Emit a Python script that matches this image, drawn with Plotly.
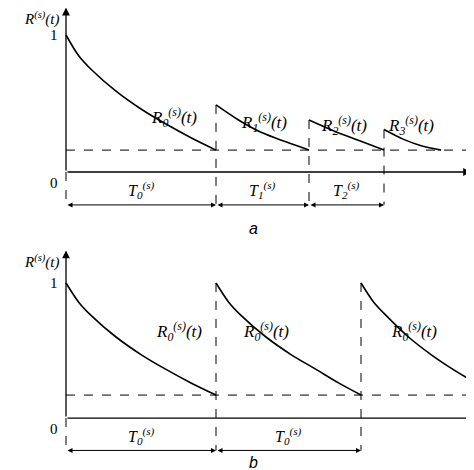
import plotly.graph_objects as go

# ---- data (schematic values) ----
# panel a
a_t = [[0, 0.25, 0.5, 1, 1.5, 2, 2.5, 3],
       [3, 3.45, 3.9, 4.4, 4.86],
       [4.86, 5.36, 5.86, 6.36],
       [6.36, 6.74, 7.12, 7.5]]
a_r = [[1, 0.85, 0.75, 0.59, 0.46, 0.35, 0.25, 0.16],
       [0.49, 0.38, 0.29, 0.22, 0.16],
       [0.38, 0.30, 0.23, 0.16],
       [0.31, 0.24, 0.19, 0.16]]
a_level = 0.16
a_bounds = [0, 3, 4.86, 6.36]
a_T = ["T<sub>0</sub><sup>(s)</sup>", "T<sub>1</sub><sup>(s)</sup>", "T<sub>2</sub><sup>(s)</sup>"]
a_lab = ["R<sub>0</sub><sup>(s)</sup>(t)", "R<sub>1</sub><sup>(s)</sup>(t)",
         "R<sub>2</sub><sup>(s)</sup>(t)", "R<sub>3</sub><sup>(s)</sup>(t)"]
a_lab_pos = [(2.15, 0.40), (3.95, 0.36), (5.55, 0.34), (6.9, 0.34)]

# panel b
b_t = [[0, 0.25, 0.5, 1, 1.5, 2, 2.5, 3],
       [3, 3.25, 3.5, 4, 4.5, 5, 5.45, 5.9],
       [5.9, 6.15, 6.4, 6.85, 7.3, 7.7, 8.1]]
b_r = [[1, 0.86, 0.76, 0.6, 0.47, 0.36, 0.26, 0.17],
       [1, 0.86, 0.76, 0.6, 0.47, 0.36, 0.26, 0.17],
       [1, 0.86, 0.76, 0.6, 0.47, 0.37, 0.28]]
b_level = 0.17
b_bounds = [0, 3, 5.9]
b_T = ["T<sub>0</sub><sup>(s)</sup>", "T<sub>0</sub><sup>(s)</sup>"]
b_lab = ["R<sub>0</sub><sup>(s)</sup>(t)"] * 3
b_lab_pos = [(2.25, 0.64), (4.0, 0.64), (6.95, 0.64)]

FONT = "Liberation Serif"
fig = go.Figure()
ann = []
shapes = []

def panel(ts, rs, level, bounds, Tl, labs, labpos, xr, yr, axis_end, ytop, letter, lety):
    for t, r in zip(ts, rs):
        fig.add_trace(go.Scatter(x=t, y=r, mode="lines", line=dict(color="black", width=1.6, shape="spline", smoothing=0.8),
                                 xaxis=xr, yaxis=yr, showlegend=False, hoverinfo="skip"))
    shapes.append(dict(type="line", xref=xr, yref=yr, x0=0, x1=axis_end, y0=level, y1=level,
                       line=dict(color="black", width=1, dash="dash")))
    starts = [r[0] for r in rs]
    for i, b in enumerate(bounds):
        top = starts[i] if i > 0 else 0
        shapes.append(dict(type="line", xref=xr, yref=yr, x0=b, x1=b, y0=top, y1=-0.24,
                           line=dict(color="black", width=1, dash="dash")))
    ann.append(dict(xref=xr, yref=yr, axref=xr, ayref=yr, x=0, y=ytop, ax=0, ay=0, text="",
                    showarrow=True, arrowhead=2, arrowsize=1.2, arrowwidth=1.3, arrowcolor="black"))
    ann.append(dict(xref=xr, yref=yr, axref=xr, ayref=yr, x=axis_end, y=0, ax=0, ay=0, text="",
                    showarrow=True, arrowhead=2, arrowsize=1.2, arrowwidth=1.3, arrowcolor="black"))
    for i in range(len(Tl)):
        x0, x1 = bounds[i], bounds[i + 1]
        ann.append(dict(xref=xr, yref=yr, axref=xr, ayref=yr, x=x1, y=-0.24, ax=x0, ay=-0.24, text="",
                        showarrow=True, arrowhead=2, arrowside="end+start", arrowsize=1, arrowwidth=1, arrowcolor="black"))
        ann.append(dict(xref=xr, yref=yr, x=(x0 + x1) / 2, y=-0.13, text="<i>" + Tl[i] + "</i>", showarrow=False,
                        font=dict(family=FONT, size=16, color="black")))
    for lab, (lx, ly) in zip(labs, labpos):
        ann.append(dict(xref=xr, yref=yr, x=lx, y=ly, text="<i>" + lab + "</i>", showarrow=False,
                        font=dict(family=FONT, size=17, color="black")))
    ann.append(dict(xref=xr, yref=yr, x=-0.25, y=1, text="1", showarrow=False, font=dict(family=FONT, size=15, color="black")))
    ann.append(dict(xref=xr, yref=yr, x=-0.25, y=-0.08, text="0", showarrow=False, font=dict(family=FONT, size=15, color="black")))
    ann.append(dict(xref=xr, yref=yr, x=-0.5, y=ytop - 0.08, text="<i>R<sup>(s)</sup>(t)</i>", showarrow=False,
                    font=dict(family=FONT, size=15, color="black")))
    ann.append(dict(xref=xr, yref=yr, x=axis_end - 0.05, y=-0.1, text="<i>t</i>", showarrow=False,
                    font=dict(family=FONT, size=16, color="black")))
    ann.append(dict(xref=xr, yref=yr, x=3.75, y=lety, text="<i>" + letter + "</i>", showarrow=False,
                    font=dict(family="Liberation Sans", size=16, color="black")))

panel(a_t, a_r, a_level, a_bounds, a_T, a_lab, a_lab_pos, "x", "y", 8.1, 1.2, "a", -0.41)
panel(b_t, b_r, b_level, b_bounds, b_T, b_lab, b_lab_pos, "x2", "y2", 8.2, 1.24, "b", -0.33)

ax = dict(visible=False, range=[-1.16, 8.32], fixedrange=True)
fig.update_layout(
    width=474, height=470, margin=dict(l=0, r=0, t=0, b=0),
    paper_bgcolor="white", plot_bgcolor="white",
    xaxis=dict(ax, domain=[0, 1]), xaxis2=dict(ax, domain=[0, 1]),
    yaxis=dict(visible=False, domain=[0.5, 1], range=[-0.518, 1.197], anchor="x"),
    yaxis2=dict(visible=False, domain=[0, 0.5], range=[-0.444, 1.296], anchor="x2"),
    annotations=ann, shapes=shapes,
)
fig.write_html("out.html")
